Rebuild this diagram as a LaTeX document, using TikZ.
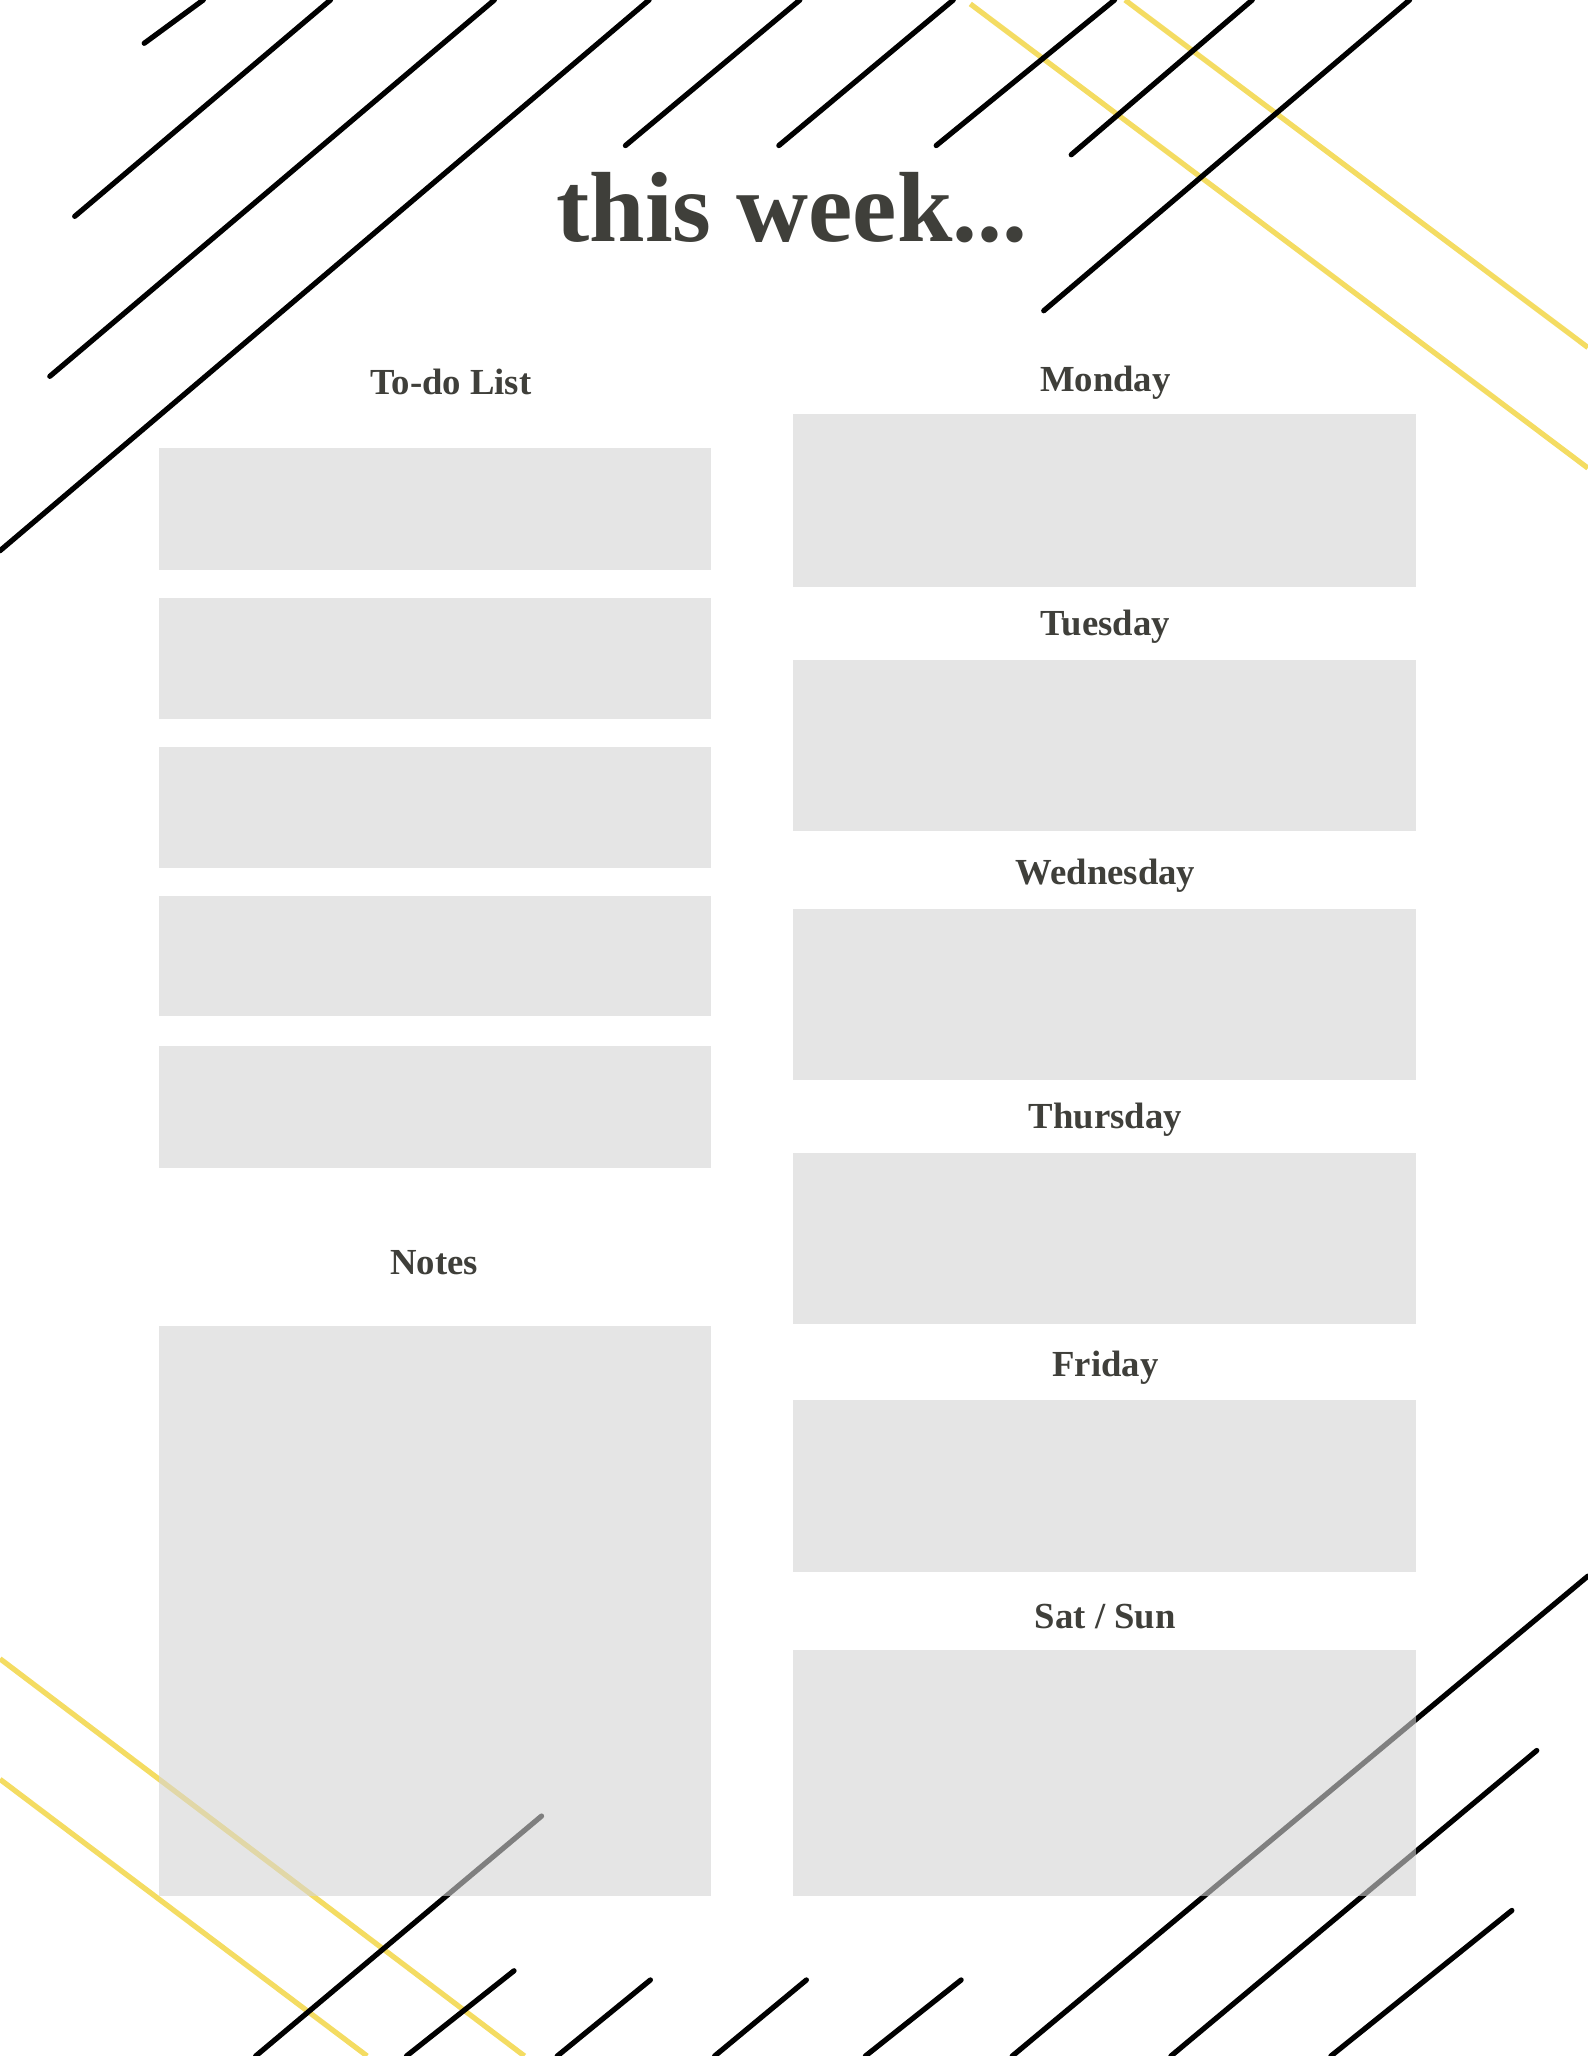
\documentclass[tikz,border=0pt]{standalone}
\usepackage{fontspec}
\setmainfont{Liberation Serif}
\begin{document}
\begin{tikzpicture}[x=1pt,y=-1pt,
  bl/.style={line width=4pt,black,line cap=round},
  yl/.style={line width=4pt,color={rgb,255:red,244;green,220;blue,98}},
  bx/.style={fill={rgb,255:red,213;green,213;blue,213},fill opacity=0.6,draw=none},
  lbl/.style={text={rgb,255:red,63;green,63;blue,58},font=\fontsize{28}{30}\selectfont\bfseries}]
\useasboundingbox[fill=white] (0,0) rectangle (1211,1568);
\begin{scope}
\clip (0,0) rectangle (1211,1568);
\draw[yl] (740,3) -- (1211,357);
\draw[yl] (858,0) -- (1211,265);
\draw[bl] (110,33) -- (155,0);
\draw[bl] (57,165) -- (252,0);
\draw[bl] (38,287) -- (377,0);
\draw[bl] (0,420) -- (495,0);
\draw[bl] (477,111) -- (610,0);
\draw[bl] (594,111) -- (727,0);
\draw[bl] (714,111) -- (850,0);
\draw[bl] (817,118) -- (955,0);
\draw[bl] (796,237) -- (1075,0);
\draw[yl] (0,1265) -- (400,1568);
\draw[yl] (0,1357) -- (280,1568);
\draw[bl] (413,1385) -- (195,1568);
\draw[bl] (392,1503) -- (310,1568);
\draw[bl] (496,1510) -- (425,1568);
\draw[bl] (615,1510) -- (545,1568);
\draw[bl] (733,1510) -- (660,1568);
\draw[bl] (1211,1202) -- (772,1568);
\draw[bl] (1172,1335) -- (893,1568);
\draw[bl] (1153,1457) -- (1015,1568);
\end{scope}
\fill[bx] (121,342) rectangle (542,435);
\fill[bx] (121,456) rectangle (542,548);
\fill[bx] (121,570) rectangle (542,662);
\fill[bx] (121,683) rectangle (542,775);
\fill[bx] (121,798) rectangle (542,891);
\fill[bx] (121,1011) rectangle (542,1446);
\fill[bx] (605,316) rectangle (1080,448);
\fill[bx] (605,503) rectangle (1080,634);
\fill[bx] (605,693) rectangle (1080,824);
\fill[bx] (605,879) rectangle (1080,1010);
\fill[bx] (605,1068) rectangle (1080,1199);
\fill[bx] (605,1258) rectangle (1080,1446);
\node[lbl,font=\fontsize{76}{80}\selectfont\bfseries] (title) at (604,158) {this week...};
\node[lbl] (todo) at (344,291) {To-do List};
\node[lbl] (notes) at (331,963) {Notes};
\node[lbl] (mon) at (843,292) {Monday};
\node[lbl] (tue) at (843,478) {Tuesday};
\node[lbl] (wed) at (843,668) {Wednesday};
\node[lbl] (thu) at (843,854) {Thursday};
\node[lbl] (fri) at (843,1043) {Friday};
\node[lbl] (sat) at (843,1233) {Sat / Sun};
\end{tikzpicture}
\end{document}
